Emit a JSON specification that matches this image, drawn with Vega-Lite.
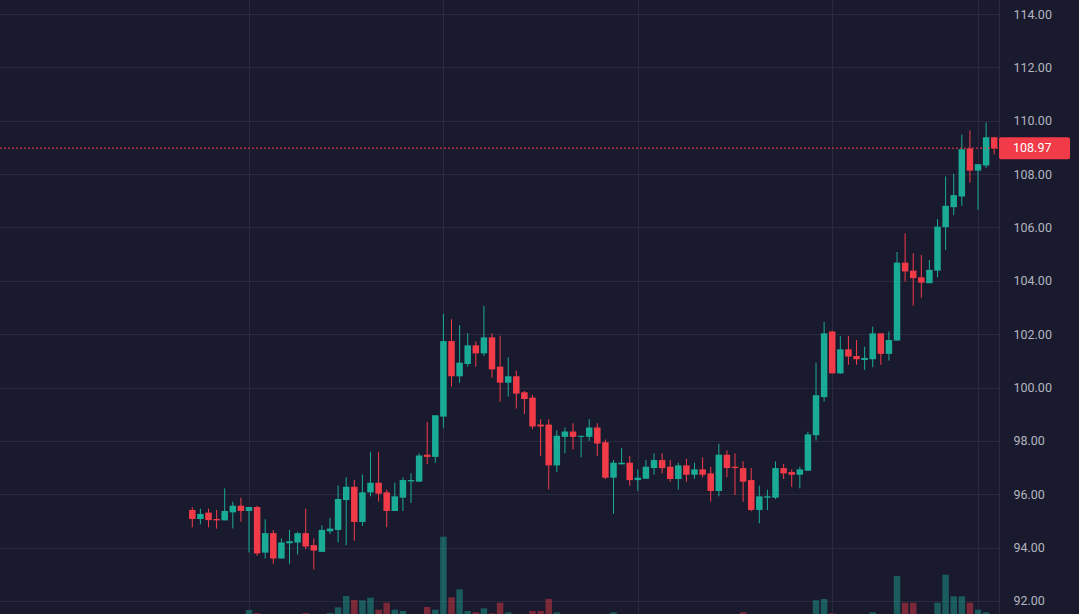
{
  "$schema": "https://vega.github.io/schema/vega-lite/v6.json",
  "width": 999,
  "height": 614,
  "autosize": {"type": "none"},
  "padding": {"left": 0, "top": 0, "right": 80, "bottom": 0},
  "background": "#1a1a2e",
  "datasets": {
    "ohlc": [
      {"i": 1, "o": 95.41, "h": 95.51, "l": 94.76, "c": 95.07, "v": 0},
      {"i": 2, "o": 95.07, "h": 95.46, "l": 94.87, "c": 95.26, "v": 0},
      {"i": 3, "o": 95.31, "h": 95.46, "l": 94.76, "c": 95.03, "v": 0},
      {"i": 4, "o": 95.07, "h": 95.41, "l": 94.71, "c": 95.02, "v": 0},
      {"i": 5, "o": 95.02, "h": 96.22, "l": 95.02, "c": 95.37, "v": 0},
      {"i": 6, "o": 95.32, "h": 95.72, "l": 94.72, "c": 95.57, "v": 0},
      {"i": 7, "o": 95.57, "h": 95.87, "l": 94.97, "c": 95.37, "v": 0},
      {"i": 8, "o": 95.37, "h": 95.52, "l": 93.82, "c": 95.52, "v": 40},
      {"i": 9, "o": 95.52, "h": 95.57, "l": 93.69, "c": 93.78, "v": 10},
      {"i": 10, "o": 93.81, "h": 95.06, "l": 93.59, "c": 94.54, "v": 0},
      {"i": 11, "o": 94.54, "h": 94.66, "l": 93.39, "c": 93.59, "v": 0},
      {"i": 12, "o": 93.59, "h": 94.34, "l": 93.59, "c": 94.19, "v": 0},
      {"i": 13, "o": 94.16, "h": 94.66, "l": 93.39, "c": 94.24, "v": 0},
      {"i": 14, "o": 94.19, "h": 94.59, "l": 93.74, "c": 94.54, "v": 0},
      {"i": 15, "o": 94.54, "h": 95.46, "l": 93.94, "c": 94.04, "v": 10},
      {"i": 16, "o": 94.09, "h": 94.34, "l": 93.18, "c": 93.89, "v": 0},
      {"i": 17, "o": 93.84, "h": 94.84, "l": 93.84, "c": 94.66, "v": 0},
      {"i": 18, "o": 94.61, "h": 95.11, "l": 94.51, "c": 94.71, "v": 10},
      {"i": 19, "o": 94.66, "h": 96.33, "l": 94.19, "c": 95.82, "v": 67},
      {"i": 20, "o": 95.78, "h": 96.63, "l": 94.09, "c": 96.28, "v": 180},
      {"i": 21, "o": 96.28, "h": 96.53, "l": 94.26, "c": 94.96, "v": 140},
      {"i": 22, "o": 94.96, "h": 96.73, "l": 94.81, "c": 96.07, "v": 137},
      {"i": 23, "o": 96.07, "h": 97.59, "l": 95.92, "c": 96.43, "v": 163},
      {"i": 24, "o": 96.43, "h": 97.59, "l": 95.72, "c": 96.02, "v": 43},
      {"i": 25, "o": 96.07, "h": 96.17, "l": 94.76, "c": 95.37, "v": 113},
      {"i": 26, "o": 95.37, "h": 96.43, "l": 95.37, "c": 95.92, "v": 43},
      {"i": 27, "o": 95.87, "h": 96.63, "l": 95.37, "c": 96.53, "v": 30},
      {"i": 28, "o": 96.48, "h": 96.78, "l": 95.67, "c": 96.53, "v": 0},
      {"i": 29, "o": 96.47, "h": 97.53, "l": 96.47, "c": 97.45, "v": 0},
      {"i": 30, "o": 97.48, "h": 98.71, "l": 97.13, "c": 97.40, "v": 70},
      {"i": 31, "o": 97.40, "h": 98.96, "l": 97.18, "c": 98.96, "v": 43},
      {"i": 32, "o": 98.91, "h": 102.76, "l": 98.49, "c": 101.74, "v": 773},
      {"i": 33, "o": 101.74, "h": 102.56, "l": 100.03, "c": 100.42, "v": 167},
      {"i": 34, "o": 100.42, "h": 102.34, "l": 100.17, "c": 100.93, "v": 247},
      {"i": 35, "o": 100.88, "h": 102.04, "l": 100.78, "c": 101.58, "v": 30},
      {"i": 36, "o": 101.58, "h": 101.73, "l": 100.78, "c": 101.28, "v": 17},
      {"i": 37, "o": 101.28, "h": 103.06, "l": 101.18, "c": 101.88, "v": 57},
      {"i": 38, "o": 101.88, "h": 102.03, "l": 100.37, "c": 100.68, "v": 7},
      {"i": 39, "o": 100.78, "h": 101.94, "l": 99.47, "c": 100.18, "v": 113},
      {"i": 40, "o": 100.18, "h": 101.13, "l": 99.66, "c": 100.42, "v": 17},
      {"i": 41, "o": 100.42, "h": 100.63, "l": 99.21, "c": 99.77, "v": 0},
      {"i": 42, "o": 99.82, "h": 99.87, "l": 99.01, "c": 99.57, "v": 0},
      {"i": 43, "o": 99.62, "h": 99.72, "l": 98.45, "c": 98.54, "v": 30},
      {"i": 44, "o": 98.61, "h": 98.81, "l": 97.43, "c": 98.54, "v": 30},
      {"i": 45, "o": 98.61, "h": 98.81, "l": 96.18, "c": 97.08, "v": 150},
      {"i": 46, "o": 97.08, "h": 98.39, "l": 96.83, "c": 98.19, "v": 17},
      {"i": 47, "o": 98.15, "h": 98.50, "l": 97.53, "c": 98.35, "v": 0},
      {"i": 48, "o": 98.35, "h": 98.66, "l": 97.68, "c": 98.15, "v": 0},
      {"i": 49, "o": 98.15, "h": 98.19, "l": 97.38, "c": 98.19, "v": 0},
      {"i": 50, "o": 98.15, "h": 98.81, "l": 98.00, "c": 98.50, "v": 0},
      {"i": 51, "o": 98.50, "h": 98.66, "l": 97.43, "c": 97.90, "v": 0},
      {"i": 52, "o": 97.95, "h": 98.05, "l": 96.57, "c": 96.62, "v": 0},
      {"i": 53, "o": 96.62, "h": 97.28, "l": 95.27, "c": 97.18, "v": 17},
      {"i": 54, "o": 97.12, "h": 97.74, "l": 97.12, "c": 97.18, "v": 0},
      {"i": 55, "o": 97.18, "h": 97.43, "l": 96.32, "c": 96.53, "v": 0},
      {"i": 56, "o": 96.53, "h": 96.93, "l": 96.12, "c": 96.62, "v": 0},
      {"i": 57, "o": 96.58, "h": 97.28, "l": 96.58, "c": 97.03, "v": 0},
      {"i": 58, "o": 96.98, "h": 97.53, "l": 96.73, "c": 97.28, "v": 0},
      {"i": 59, "o": 97.28, "h": 97.53, "l": 96.78, "c": 96.98, "v": 0},
      {"i": 60, "o": 97.03, "h": 97.28, "l": 96.47, "c": 96.57, "v": 0},
      {"i": 61, "o": 96.57, "h": 97.18, "l": 96.17, "c": 97.08, "v": 0},
      {"i": 62, "o": 97.08, "h": 97.33, "l": 96.47, "c": 96.73, "v": 0},
      {"i": 63, "o": 96.73, "h": 97.18, "l": 96.58, "c": 96.93, "v": 0},
      {"i": 64, "o": 96.93, "h": 97.38, "l": 96.63, "c": 96.73, "v": 0},
      {"i": 65, "o": 96.78, "h": 97.03, "l": 95.72, "c": 96.12, "v": 0},
      {"i": 66, "o": 96.12, "h": 97.89, "l": 95.92, "c": 97.48, "v": 0},
      {"i": 67, "o": 97.48, "h": 97.64, "l": 96.63, "c": 96.98, "v": 0},
      {"i": 68, "o": 97.03, "h": 97.53, "l": 95.97, "c": 96.98, "v": 0},
      {"i": 69, "o": 96.98, "h": 97.23, "l": 95.72, "c": 96.47, "v": 17},
      {"i": 70, "o": 96.53, "h": 96.98, "l": 95.36, "c": 95.41, "v": 0},
      {"i": 71, "o": 95.41, "h": 96.32, "l": 94.91, "c": 95.92, "v": 0},
      {"i": 72, "o": 95.87, "h": 96.17, "l": 95.41, "c": 95.92, "v": 0},
      {"i": 73, "o": 95.87, "h": 97.23, "l": 95.82, "c": 96.98, "v": 0},
      {"i": 74, "o": 96.98, "h": 97.13, "l": 96.57, "c": 96.78, "v": 0},
      {"i": 75, "o": 96.83, "h": 96.93, "l": 96.28, "c": 96.73, "v": 0},
      {"i": 76, "o": 96.73, "h": 97.03, "l": 96.22, "c": 96.93, "v": 0},
      {"i": 77, "o": 96.88, "h": 98.34, "l": 96.88, "c": 98.24, "v": 0},
      {"i": 78, "o": 98.21, "h": 100.93, "l": 98.01, "c": 99.71, "v": 137},
      {"i": 79, "o": 99.64, "h": 102.46, "l": 99.47, "c": 102.03, "v": 150},
      {"i": 80, "o": 102.10, "h": 102.13, "l": 100.53, "c": 100.53, "v": 7},
      {"i": 81, "o": 100.53, "h": 101.93, "l": 100.51, "c": 101.43, "v": 0},
      {"i": 82, "o": 101.43, "h": 101.93, "l": 100.85, "c": 101.16, "v": 0},
      {"i": 83, "o": 101.18, "h": 101.78, "l": 100.85, "c": 101.06, "v": 0},
      {"i": 84, "o": 101.03, "h": 101.53, "l": 100.66, "c": 101.11, "v": 0},
      {"i": 85, "o": 101.06, "h": 102.28, "l": 100.76, "c": 102.03, "v": 17},
      {"i": 86, "o": 102.03, "h": 102.03, "l": 100.85, "c": 101.26, "v": 0},
      {"i": 87, "o": 101.26, "h": 102.10, "l": 101.01, "c": 101.78, "v": 0},
      {"i": 88, "o": 101.76, "h": 105.08, "l": 101.76, "c": 104.68, "v": 380},
      {"i": 89, "o": 104.68, "h": 105.78, "l": 103.97, "c": 104.35, "v": 113},
      {"i": 90, "o": 104.38, "h": 105.03, "l": 103.07, "c": 104.10, "v": 113},
      {"i": 91, "o": 104.13, "h": 104.97, "l": 103.37, "c": 103.93, "v": 0},
      {"i": 92, "o": 103.91, "h": 104.78, "l": 103.91, "c": 104.41, "v": 0},
      {"i": 93, "o": 104.38, "h": 106.31, "l": 104.13, "c": 106.03, "v": 113},
      {"i": 94, "o": 106.01, "h": 107.91, "l": 105.16, "c": 106.81, "v": 393},
      {"i": 95, "o": 106.76, "h": 108.01, "l": 106.46, "c": 107.21, "v": 177},
      {"i": 96, "o": 107.16, "h": 109.48, "l": 106.81, "c": 108.93, "v": 177},
      {"i": 97, "o": 108.96, "h": 109.64, "l": 107.68, "c": 108.13, "v": 113},
      {"i": 98, "o": 108.13, "h": 108.37, "l": 106.66, "c": 108.37, "v": 43},
      {"i": 99, "o": 108.32, "h": 109.93, "l": 108.22, "c": 109.38, "v": 17},
      {"i": 100, "o": 109.38, "h": 109.38, "l": 108.74, "c": 108.97, "v": 0}
    ],
    "last": [{"price": 108.97}]
  },
  "layer": [
    {
      "data": {"name": "ohlc"},
      "mark": {"type": "bar", "width": 6.5, "opacity": 0.45},
      "encoding": {
        "x": {
          "field": "i",
          "type": "quantitative",
          "scale": {"domain": [-22.74, 100.59], "nice": false, "zero": false, "padding": 0},
          "axis": {"values": [8, 32, 56, 80, 98], "grid": true, "labels": false, "ticks": false, "domain": false, "title": null, "gridColor": "#2a2a3f"}
        },
        "y": {"field": "v", "type": "quantitative", "scale": {"domain": [0, 6140], "nice": false, "padding": 0}, "axis": null},
        "color": {"condition": {"test": "datum.c >= datum.o", "value": "#1aab97"}, "value": "#f23b48"}
      }
    },
    {
      "encoding": {
        "y": {
          "type": "quantitative",
          "scale": {"domain": [91.51, 114.525], "nice": false, "zero": false, "padding": 0},
          "axis": {
            "orient": "right",
            "values": [92, 94, 96, 98, 100, 102, 104, 106, 108, 110, 112, 114],
            "format": ".2f",
            "grid": true,
            "gridColor": "#2a2a3f",
            "ticks": false,
            "domain": true,
            "domainColor": "#2b2b40",
            "labelPadding": 14,
            "labelColor": "#b2b5be",
            "labelFont": "Roboto",
            "labelFontSize": 12.5,
            "labelFlush": false,
            "labelOverlap": false,
            "title": null
          }
        }
      },
      "layer": [
        {
          "data": {"name": "ohlc"},
          "mark": {"type": "rule", "strokeWidth": 1},
          "encoding": {
            "x": {"field": "i", "type": "quantitative"},
            "y": {"field": "l"},
            "y2": {"field": "h"},
            "color": {"condition": {"test": "datum.c >= datum.o", "value": "#1aab97"}, "value": "#f23b48"}
          }
        },
        {
          "data": {"name": "ohlc"},
          "mark": {"type": "bar", "width": 6.5},
          "encoding": {
            "x": {"field": "i", "type": "quantitative"},
            "y": {"field": "o"},
            "y2": {"field": "c"},
            "color": {"condition": {"test": "datum.c >= datum.o", "value": "#1aab97"}, "value": "#f23b48"}
          }
        },
        {
          "data": {"name": "last"},
          "mark": {"type": "rule", "color": "#f23b48", "strokeDash": [2, 2], "strokeWidth": 1},
          "encoding": {
            "x": {"datum": -22.74},
            "x2": {"datum": 100.59},
            "y": {"field": "price"}
          }
        },
        {
          "data": {"name": "last"},
          "mark": {"type": "bar", "color": "#f23b48", "height": 22, "cornerRadius": 2, "clip": false},
          "encoding": {
            "x": {"datum": 100.59},
            "x2": {"datum": 109.36},
            "y": {"field": "price"}
          }
        },
        {
          "data": {"name": "last"},
          "mark": {"type": "text", "color": "#ffffff", "align": "left", "baseline": "middle", "font": "Roboto", "fontSize": 12.5},
          "encoding": {
            "x": {"datum": 102.32},
            "y": {"field": "price"},
            "text": {"field": "price", "format": ".2f"}
          }
        }
      ]
    }
  ],
  "resolve": {"scale": {"y": "independent"}},
  "config": {
    "view": {"stroke": null}
  }
}
